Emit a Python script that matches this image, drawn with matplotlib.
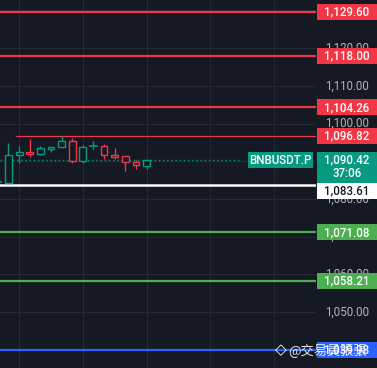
import matplotlib
matplotlib.use('Agg')
import matplotlib.pyplot as plt
from matplotlib.patches import Rectangle
import numpy as np

# candle data (hollow candles, last one is live)
opens  = [1084.40, 1084.14, 1091.57, 1092.37, 1091.84, 1093.32, 1093.85, 1095.37,
          1090.14, 1094.04, 1093.96, 1091.73, 1091.30, 1089.79, 1088.81]
highs  = [1084.60, 1094.91, 1094.04, 1095.90, 1094.04, 1093.85, 1096.69, 1096.16,
          1094.30, 1095.37, 1094.57, 1093.51, 1091.30, 1090.32, 1090.42]
lows   = [1084.30, 1084.14, 1089.45, 1091.20, 1091.65, 1092.37, 1093.85, 1089.61,
          1089.61, 1093.32, 1090.67, 1090.51, 1087.48, 1088.01, 1088.01]
closes = [1084.50, 1091.65, 1092.37, 1091.84, 1093.43, 1093.85, 1095.37, 1090.14,
          1093.69, 1094.04, 1091.57, 1091.20, 1089.71, 1088.92, 1090.42]

resist = [1129.60, 1118.00, 1104.26, 1096.82]
support = [1071.08, 1058.21]
white_level = 1083.61
blue_level = 1039.98
symbol = 'BNBUSDT.P'
countdown = '37:06'
ticks = [1050, 1060, 1070, 1080, 1090, 1100, 1110, 1120, 1130]
watermark = '@交易員張張'

BG = '#151924'
GRID = '#262a35'
GREEN = '#089981'
RED = '#f23645'
LGREEN = '#4caf50'
BLUE = '#2962ff'
TXT = '#b2b5be'

W, H = 377, 368
fig = plt.figure(figsize=(W / 100, H / 100), dpi=100, facecolor=BG)
ax = fig.add_axes([0, 0, 316 / W, 1])
pax = fig.add_axes([316 / W, 0, 61 / W, 1])
ylo, yhi = 1035.12, 1132.78
upx = (yhi - ylo) / H  # price units per pixel

for a in (ax, pax):
    a.set_facecolor(BG)
    a.set_ylim(ylo, yhi)
    a.set_axis_off()
ax.set_xlim(0.2, 29.95)
pax.set_xlim(0, 61)

# grid
for t in ticks:
    ax.axhline(t, color=GRID, lw=0.8, zorder=0)
for gx in [2, 8, 14, 20, 26]:
    ax.axvline(gx, color=GRID, lw=0.8, zorder=0)

# candles
bw = 0.64
for i, (o, h, l, c) in enumerate(zip(opens, highs, lows, closes)):
    col = GREEN if c >= o else RED
    top, bot = max(o, c), min(o, c)
    if top - bot < 0.15:
        ax.plot([i - bw / 2, i + bw / 2], [c, c], color=col, lw=1.2, zorder=3)
        ax.vlines(i, l, h, color=col, lw=1, zorder=3)
        continue
    ax.vlines(i, top, h, color=col, lw=1, zorder=3)
    ax.vlines(i, l, bot, color=col, lw=1, zorder=3)
    ax.add_patch(Rectangle((i - bw / 2, bot), bw, top - bot, facecolor=BG,
                           edgecolor=col, lw=1, zorder=4))

# level lines
for v in resist[:3]:
    ax.axhline(v, color=RED, lw=1.6, zorder=2)
ax.plot([1.7, 29.95], [resist[3], resist[3]], color=RED, lw=0.9, zorder=2)
for v in support:
    ax.axhline(v, color=LGREEN, lw=1.6, zorder=2)
ax.axhline(white_level, color='white', lw=1.8, zorder=2)
ax.axhline(blue_level, color=BLUE, lw=1.6, zorder=2)
ax.plot([0.2, 23], [closes[-1], closes[-1]], color=GREEN, lw=1,
        ls=(0, (1, 2)), zorder=2)

# price axis tick labels
font = dict(family='Roboto', fontsize=8.3, fontweight='medium')
for t in ticks:
    pax.text(31, t, f'{t:,.2f}', color=TXT, ha='center', va='center',
             family='Roboto', fontsize=8.3)


def label(y, text, fc, tc='white', hpx=16):
    hh = hpx * upx
    pax.add_patch(Rectangle((1, y - hh / 2), 60, hh, facecolor=fc,
                            edgecolor='none', zorder=5, clip_on=False))
    pax.text(31, y, text, color=tc, ha='center', va='center', zorder=6, **font)


for v in resist:
    label(v, f'{v:,.2f}', RED)
for v in support:
    label(v, f'{v:,.2f}', LGREEN)
label(blue_level, f'{blue_level:,.2f}', BLUE)

# live price label, two lines
cp = closes[-1]
top_y = cp + 7.5 * upx
pax.add_patch(Rectangle((1, top_y - 30.5 * upx), 60, 30.5 * upx, facecolor=GREEN,
                        edgecolor='none', zorder=5))
pax.text(31, cp, f'{cp:,.2f}', color='white', ha='center', va='center', zorder=6, **font)
pax.text(31, cp - 14 * upx, countdown, color='white', ha='center', va='center',
         zorder=6, **font)
# white label pushed below the live price label
wy = top_y - 30.5 * upx - 8 * upx
label(wy, f'{white_level:,.2f}', 'white', tc='#131722')

# symbol tag
ax.add_patch(Rectangle((23.55, cp - 8.5 * upx), 6.1, 16 * upx, facecolor=GREEN,
                       edgecolor='none', zorder=5))
ax.text(26.6, cp - 0.5 * upx, symbol, color='white', ha='center', va='center',
        zorder=6, **font)

# watermark
fig.text(281 / W, 1 - 350 / H, '◇', color='white', ha='center', va='center',
         fontsize=11, fontweight='bold', zorder=10)
fig.text(288 / W, 1 - 350 / H, watermark, color='white', ha='left', va='center',
         fontsize=9.5, family=['Noto Sans CJK TC', 'DejaVu Sans'], alpha=0.9, zorder=10)

fig.savefig('out.png', dpi=100, facecolor=BG)
